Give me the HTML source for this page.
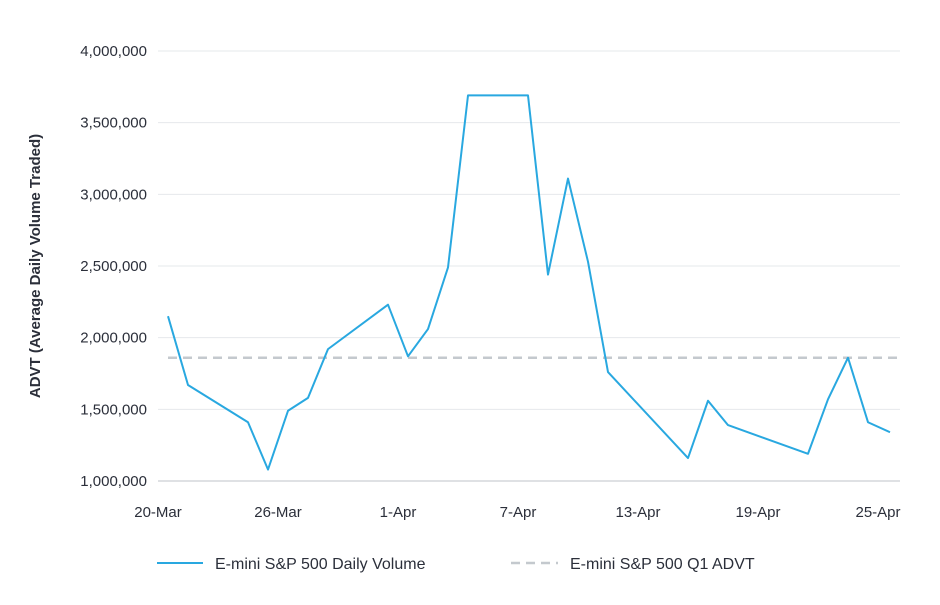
<!DOCTYPE html>
<html><head><meta charset="utf-8"><style>
body{margin:0;background:#fff;font-family:"Liberation Sans",sans-serif;}
svg text{font-family:"Liberation Sans",sans-serif;fill:#2b2f3a;}
</style></head><body>
<svg id="chart" width="940" height="600"></svg>
<script>
const days=[0,1,4,5,6,7,8,11,12,13,14,15,18,19,20,21,22,26,27,28,32,33,34,35,36.1];
const volumes=[2150000,1670000,1410000,1080000,1490000,1580000,1920000,2230000,1870000,2060000,2490000,3690000,3690000,2440000,3110000,2530000,1760000,1160000,1560000,1390000,1190000,1570000,1860000,1410000,1340000];
const q1Advt=1860000;
const yTicks=[1000000,1500000,2000000,2500000,3000000,3500000,4000000];
const xTickLabels=["20-Mar","26-Mar","1-Apr","7-Apr","13-Apr","19-Apr","25-Apr"];
const xTickDays=[-0.5,5.5,11.5,17.5,23.5,29.5,35.5];
const NS="http://www.w3.org/2000/svg";
const svg=document.getElementById('chart');
const X=d=>168+20*d;
const Y=v=>481-(v-1000000)*(430/3000000);
function mk(t,a,p){const e=document.createElementNS(NS,t);for(const k in a)e.setAttribute(k,a[k]);(p||svg).appendChild(e);return e;}
yTicks.forEach(v=>{
 const l=mk('line',{x1:158,x2:900,y1:Y(v),y2:Y(v),stroke:v===1000000?'#bfc3c8':'#e6e8eb','stroke-width':1});
 
 
 const t=mk('text',{x:147,y:Y(v)+5,'text-anchor':'end','font-size':15});
 t.textContent=v.toLocaleString('en-US');
 
 
});
xTickLabels.forEach((s,i)=>{
 const t=mk('text',{x:X(xTickDays[i]),y:517,'text-anchor':'middle','font-size':15});
 t.textContent=s;
 
 
});
const yt=mk('text',{x:0,y:0,'text-anchor':'middle','font-size':15,'font-weight':'bold',transform:'translate(40,266) rotate(-90)'});
yt.textContent='ADVT (Average Daily Volume Traded)';


const dl=mk('line',{x1:X(days[0]),x2:900,y1:Y(q1Advt),y2:Y(q1Advt),stroke:'#c4c9ce','stroke-width':2.5,'stroke-dasharray':'9,6'});


const pl=mk('polyline',{points:days.map((d,i)=>X(d)+','+Y(volumes[i])).join(' '),fill:'none',stroke:'#29a8e0','stroke-width':2,'stroke-linejoin':'round'});


const g1=mk('g',{});


mk('line',{x1:157,x2:203,y1:563,y2:563,stroke:'#29a8e0','stroke-width':2},g1);
const t1=mk('text',{x:215,y:569,'font-size':16},g1);t1.textContent='E-mini S&P 500 Daily Volume';
const g2=mk('g',{});


mk('line',{x1:511,x2:558,y1:563,y2:563,stroke:'#c4c9ce','stroke-width':2.5,'stroke-dasharray':'9,6'},g2);
const t2=mk('text',{x:570,y:569,'font-size':16},g2);t2.textContent='E-mini S&P 500 Q1 ADVT';
</script>
</body></html>
